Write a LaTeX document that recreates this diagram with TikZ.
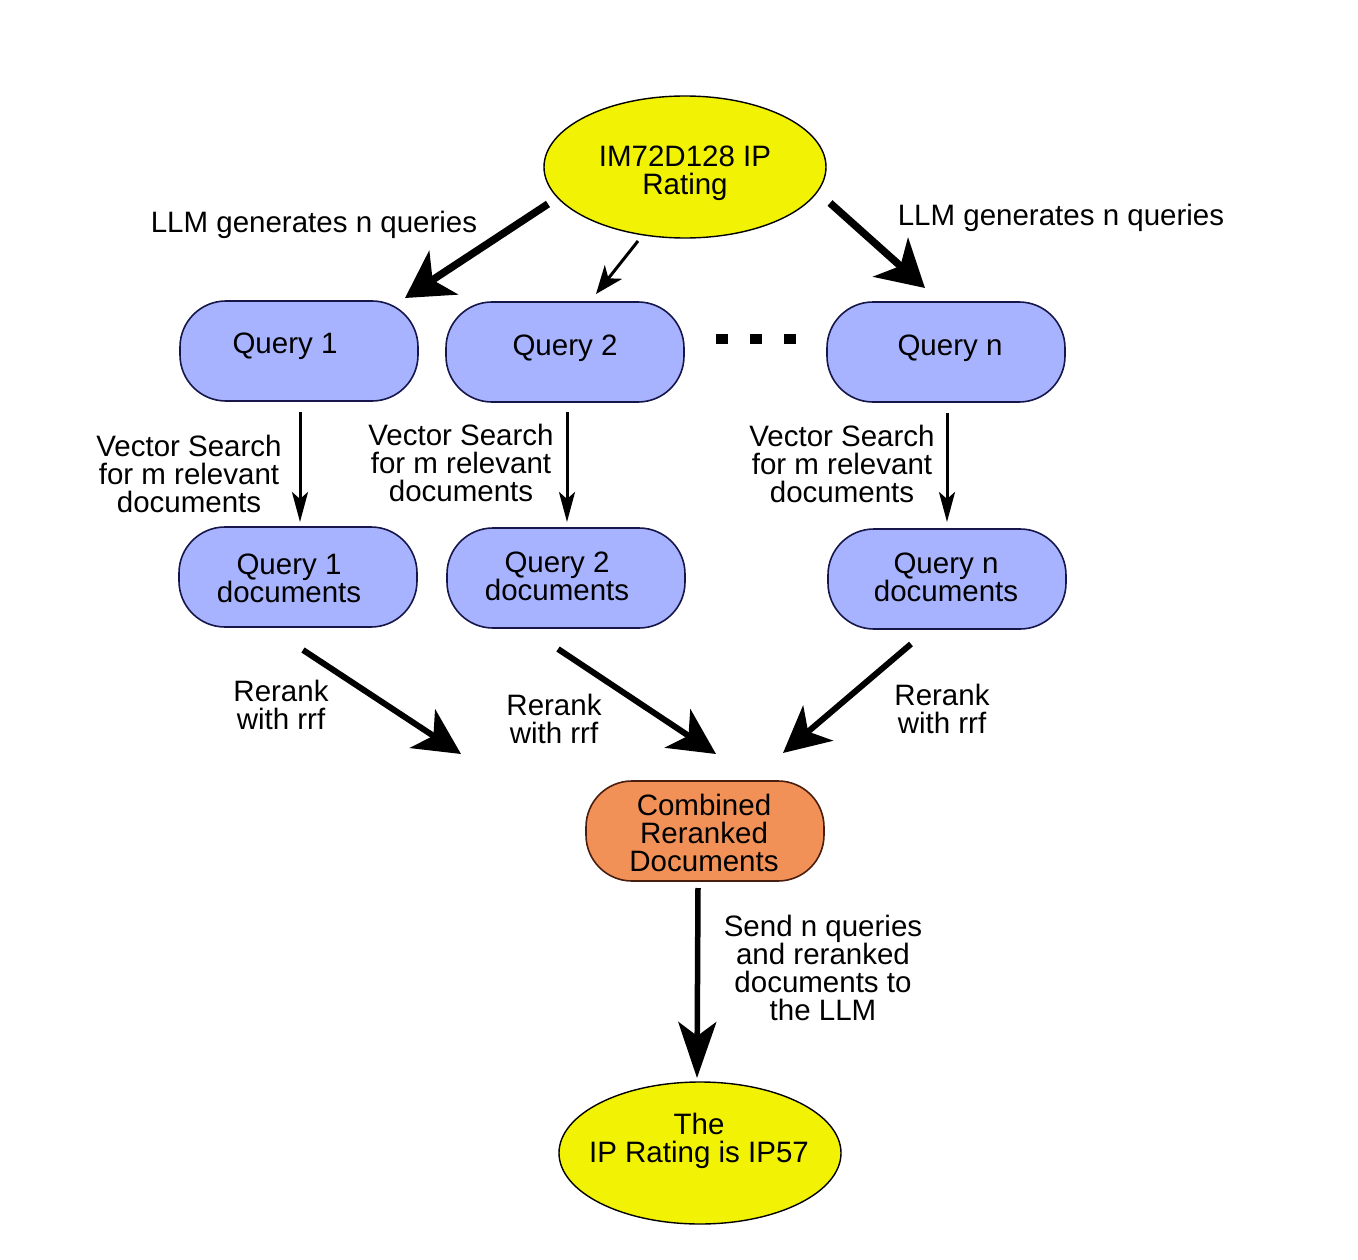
\documentclass[tikz,border=0pt]{standalone}
\usepackage{fontspec}
\setmainfont{Liberation Sans}
\usetikzlibrary{arrows.meta,shapes.geometric}
\definecolor{qblue}{HTML}{A8B3FF}
\definecolor{qedge}{HTML}{16164A}
\definecolor{corange}{HTML}{F29157}
\definecolor{cedge}{HTML}{4A1E0E}
\definecolor{yel}{HTML}{F2F205}
\tikzset{
  every node/.style={font=\fontsize{29.5}{28}\selectfont, align=center, inner sep=0pt},
  qbox/.style={draw=qedge, line width=1.6pt, fill=qblue, rounded corners=46pt, minimum width=238pt, minimum height=100pt},
  cbox/.style={draw=cedge, line width=1.6pt, fill=corange, rounded corners=46pt, minimum width=238pt, minimum height=100pt},
  ybox/.style={draw=black, line width=1.4pt, fill=yel, ellipse, minimum width=282pt, minimum height=142pt},
  thick arrow/.style={line width=7.5pt, -{Stealth[length=46pt,width=52pt,inset=13pt]}},
  mid arrow/.style={line width=6pt, -{Stealth[length=46pt,width=46pt,inset=13pt]}},
  long arrow/.style={line width=5.5pt, -{Stealth[length=56pt,width=38pt,inset=14pt]}},
  thin arrow/.style={line width=3pt, -{Stealth[length=28pt,width=22pt,inset=8pt]}},
  vert arrow/.style={line width=3pt, -{Stealth[length=30pt,width=16pt,inset=7pt]}}
}
\begin{document}
\begin{tikzpicture}[x=1pt,y=-1pt]
\useasboundingbox (0,0) rectangle (1358,1260);
% main nodes
\node[ybox] (top) at (685,167) {};
\node (toptext) at (685,173) {IM72D128 IP\\Rating};
\node[qbox] (q1) at (299,351) {};
\node (q1t) at (285,346) {Query 1};
\node[qbox] (q2) at (565,352) {};
\node (q2t) at (565,348) {Query 2};
\node[qbox] (qn) at (946,352) {};
\node (qnt) at (950,348) {Query n};
\node[qbox] (d1) at (298,577) {};
\node (d1t) at (289,578) {Query 1\\documents};
\node[qbox] (d2) at (566,578) {};
\node (d2t) at (557,576) {Query 2\\documents};
\node[qbox] (dn) at (947,579) {};
\node (dnt) at (946,577) {Query n\\documents};
\node[cbox] (comb) at (705,831) {};
\node (combt) at (704,833) {Combined\\Reranked\\Documents};
\node[ybox] (bot) at (700,1153) {};
\node (bott) at (699,1141) {The\\IP Rating is IP57};
% dots
\foreach \i/\x in {1/722,2/756,3/790}
  \fill (\x-6,334) rectangle node (dot\i) {} (\x+6,344);
% labels
\node (l1) at (314,225) {LLM generates n queries};
\node (l2) at (1061,218) {LLM generates n queries};
\node (v1) at (189,474) {Vector Search\\for m relevant\\documents};
\node (v2) at (461,463) {Vector Search\\for m relevant\\documents};
\node (v3) at (842,464) {Vector Search\\for m relevant\\documents};
\node (r1) at (281,705) {Rerank\\with rrf};
\node (r2) at (554,719) {Rerank\\with rrf};
\node (r3) at (942,709) {Rerank\\with rrf};
\node (s1) at (823,968) {Send n queries\\and reranked\\documents to\\the LLM};
% connector end points
\coordinate (a1s) at (548,204); \coordinate (a1e) at (405,298);
\coordinate (a2s) at (638,241); \coordinate (a2e) at (596,294);
\coordinate (a3s) at (830,203); \coordinate (a3e) at (925,288);
\coordinate (b1s) at (300,412); \coordinate (b1e) at (300,522);
\coordinate (b2s) at (567,412); \coordinate (b2e) at (567,522);
\coordinate (b3s) at (947,413); \coordinate (b3e) at (947,522);
\coordinate (c1s) at (303,650); \coordinate (c1e) at (461,754);
\coordinate (c2s) at (558,649); \coordinate (c2e) at (716,754);
\coordinate (c3s) at (911,644); \coordinate (c3e) at (783,753);
\coordinate (es) at (698,888); \coordinate (ee) at (697,1078);
% connectors
\draw[thick arrow] (a1s) -- (a1e);
\draw[thin arrow] (a2s) -- (a2e);
\draw[thick arrow] (a3s) -- (a3e);
\draw[vert arrow] (b1s) -- (b1e);
\draw[vert arrow] (b2s) -- (b2e);
\draw[vert arrow] (b3s) -- (b3e);
\draw[mid arrow] (c1s) -- (c1e);
\draw[mid arrow] (c2s) -- (c2e);
\draw[mid arrow] (c3s) -- (c3e);
\draw[long arrow] (es) -- (ee);
\end{tikzpicture}
\end{document}
